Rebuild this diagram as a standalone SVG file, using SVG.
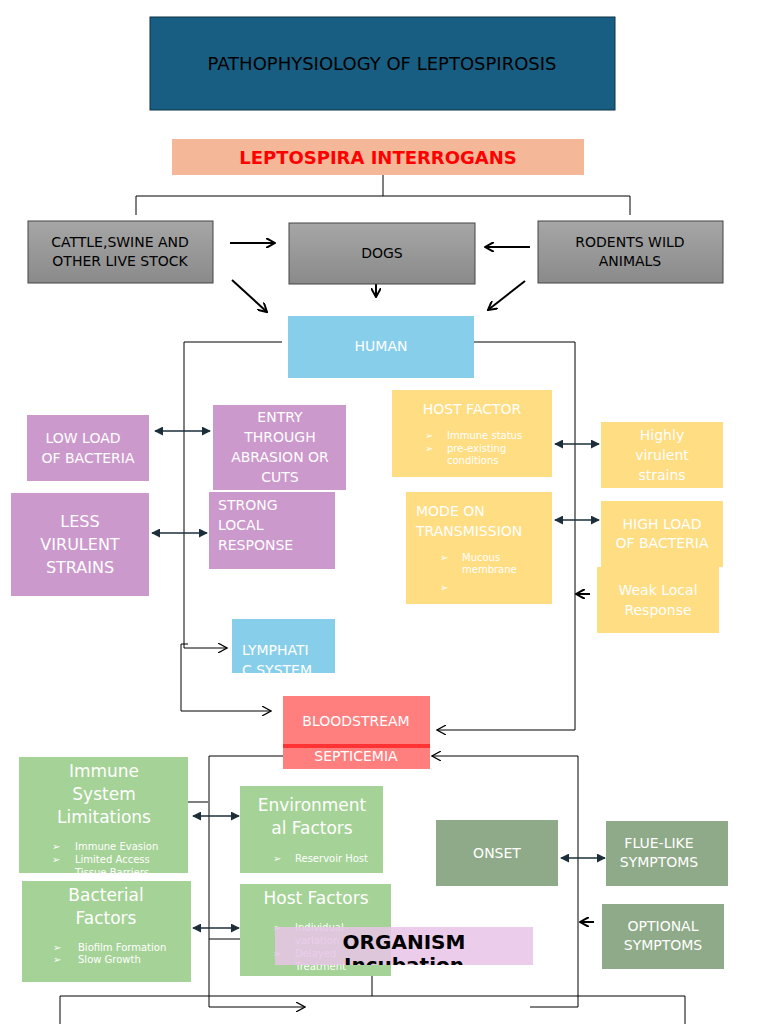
<svg xmlns="http://www.w3.org/2000/svg" width="768" height="1024" viewBox="0 0 768 1024">
<defs>
<linearGradient id="g" x1="0" y1="0" x2="0" y2="1"><stop offset="0" stop-color="#a6a6a6"/><stop offset="1" stop-color="#8a8a8a"/></linearGradient>
<marker id="o" viewBox="0 0 10 10" refX="9" refY="5" markerWidth="10" markerHeight="10" orient="auto" markerUnits="userSpaceOnUse"><path d="M0,0 L9,5 L0,10" fill="none" stroke="#000" stroke-width="1.2"/></marker>
<marker id="f" viewBox="0 0 10 10" refX="9" refY="5" markerWidth="9" markerHeight="9" orient="auto-start-reverse" markerUnits="userSpaceOnUse"><path d="M0,0 L10,5 L0,10 Z" fill="#1b2e3a"/></marker>
<marker id="b" viewBox="0 0 10 10" refX="9" refY="5" markerWidth="10" markerHeight="10" orient="auto" markerUnits="userSpaceOnUse"><path d="M0,0 L9,5 L0,10" fill="none" stroke="#000" stroke-width="2"/></marker>
</defs>
<style>
text{font-family:"DejaVu Sans",sans-serif;text-anchor:middle}
.w{fill:#fff;font-size:14px}
.s{fill:#fff;font-size:10px;text-anchor:start}
.k{fill:#000;font-size:14px}
.ln{fill:none;stroke:#000;stroke-width:1}
.th{fill:none;stroke:#000;stroke-width:2}
.da{fill:none;stroke:#1b2e3a;stroke-width:1.5;marker-start:url(#f);marker-end:url(#f)}
.p{fill:#CC99CC}.y{fill:#FFDD82}.gr{fill:#A5D296}.dg{fill:#8FAA88}
</style>
<g id="connectors">
<path class="ln" d="M383,175V196M136,215V196H630V215"/>
<path class="th" d="M230,243H275" marker-end="url(#b)"/>
<path class="th" d="M530,247H485" marker-end="url(#b)"/>
<path class="th" d="M376,284V297" marker-end="url(#b)"/>
<path class="th" d="M232,280L267,312" marker-end="url(#b)"/>
<path class="th" d="M525,281L488,310" marker-end="url(#b)"/>
<path class="ln" d="M282,342H184V648H227" marker-end="url(#o)"/>
<path class="ln" d="M474,342H575V730H437" marker-end="url(#o)"/>
<path class="ln" d="M188,644H181V711H271" marker-end="url(#o)"/>
<path class="da" d="M155,431H210"/>
<path class="da" d="M152,533H207"/>
<path class="da" d="M555,444H599"/>
<path class="da" d="M555,520H599"/>
<path class="th" d="M590,594H576" marker-end="url(#b)"/>
<path class="th" d="M355,727V742" marker-end="url(#b)"/>
<path class="ln" d="M283,756H209V1007H305" marker-end="url(#o)"/>
<path class="ln" d="M530,1007H578V756H432" marker-end="url(#o)"/>
<path class="ln" d="M188,802H208M209,939H272" marker-end="url(#o)"/>
<path class="da" d="M193,816H239"/>
<path class="da" d="M193,928H239"/>
<path class="da" d="M561,858H605"/>
<path class="th" d="M594,922H580" marker-end="url(#b)"/>
<path class="ln" d="M372,965V996M60,1024V996H685V1024"/>
</g>
<g id="title"><rect x="150" y="17" width="465" height="93" fill="#175E82" stroke="#0d3347"/><text x="382" y="70" style="font-size:18px;fill:#000">PATHOPHYSIOLOGY OF LEPTOSPIROSIS</text></g>
<g id="lepto"><rect x="172" y="139" width="412" height="36" fill="#F4B899"/><text x="378" y="164" style="font-size:18px;fill:#ff0000;font-weight:bold">LEPTOSPIRA INTERROGANS</text></g>
<g id="cattle"><rect x="28" y="221" width="185" height="62" fill="url(#g)" stroke="#444"/><text class="k" x="120" y="247">CATTLE,SWINE AND</text><text class="k" x="120" y="266">OTHER LIVE STOCK</text></g>
<g id="dogs"><rect x="289" y="223" width="186" height="61" fill="url(#g)" stroke="#444"/><text class="k" x="382" y="258">DOGS</text></g>
<g id="rodents"><rect x="538" y="221" width="185" height="62" fill="url(#g)" stroke="#444"/><text class="k" x="630" y="247">RODENTS WILD</text><text class="k" x="630" y="266">ANIMALS</text></g>
<g id="human"><rect x="288" y="316" width="186" height="62" fill="#87CEEB"/><text class="w" x="381" y="351">HUMAN</text></g>
<g id="lowload"><rect class="p" x="27" y="415" width="122" height="66"/><text class="w" x="83" y="443">LOW LOAD</text><text class="w" x="88" y="463">OF BACTERIA</text></g>
<g id="entry"><rect class="p" x="213" y="405" width="133" height="85"/><text class="w" x="280" y="422">ENTRY</text><text class="w" x="280" y="442">THROUGH</text><text class="w" x="280" y="462">ABRASION OR</text><text class="w" x="280" y="482">CUTS</text></g>
<g id="lessvir"><rect class="p" x="11" y="493" width="138" height="103"/><text class="w" x="80" y="527" style="font-size:16px">LESS</text><text class="w" x="80" y="550" style="font-size:16px">VIRULENT</text><text class="w" x="80" y="573" style="font-size:16px">STRAINS</text></g>
<g id="strong"><rect class="p" x="209" y="492" width="126" height="77"/><text class="w" x="218" y="510" style="text-anchor:start">STRONG</text><text class="w" x="218" y="530" style="text-anchor:start">LOCAL</text><text class="w" x="218" y="550" style="text-anchor:start">RESPONSE</text></g>
<g id="hostfactor"><rect class="y" x="392" y="390" width="160" height="87"/><text class="w" x="472" y="414">HOST FACTOR</text><text class="s" x="425" y="439">➢</text><text class="s" x="447" y="439">Immune status</text><text class="s" x="425" y="452">➢</text><text class="s" x="447" y="452">pre-existing</text><text class="s" x="447" y="464">conditions</text></g>
<g id="mode"><rect class="y" x="406" y="492" width="146" height="112"/><text class="w" x="416" y="516" style="text-anchor:start">MODE ON</text><text class="w" x="416" y="536" style="text-anchor:start">TRANSMISSION</text><text class="s" x="440" y="561">➢</text><text class="s" x="462" y="561">Mucous</text><text class="s" x="462" y="573">membrane</text><text class="s" x="440" y="591">➢</text></g>
<g id="highly"><rect class="y" x="601" y="422" width="122" height="66"/><text class="w" x="662" y="440">Highly</text><text class="w" x="662" y="460">virulent</text><text class="w" x="662" y="480">strains</text></g>
<g id="highload"><rect class="y" x="601" y="501" width="122" height="66"/><text class="w" x="662" y="529">HIGH LOAD</text><text class="w" x="662" y="548">OF BACTERIA</text></g>
<g id="weak"><rect class="y" x="597" y="567" width="122" height="66"/><text class="w" x="658" y="595">Weak Local</text><text class="w" x="658" y="615">Response</text></g>
<g id="lymph"><rect x="232" y="619" width="103" height="54" fill="#87CEEB"/><svg x="232" y="619" width="103" height="54"><text class="w" x="10" y="36" style="text-anchor:start">LYMPHATI</text><text class="w" x="10" y="56" style="text-anchor:start">C SYSTEM</text></svg></g>
<g id="blood"><rect x="283" y="696" width="147" height="73" fill="#FF7F7F"/><rect x="283" y="744" width="147" height="4" fill="#FF3333"/><text class="w" x="356" y="726">BLOODSTREAM</text><text class="w" x="356" y="761">SEPTICEMIA</text></g>
<g id="immune"><rect class="gr" x="19" y="757" width="169" height="116"/><svg x="19" y="757" width="169" height="116"><text class="w" x="85" y="20" style="font-size:17px">Immune</text><text class="w" x="85" y="43" style="font-size:17px">System</text><text class="w" x="85" y="66" style="font-size:17px">Limitations</text><text class="s" x="33" y="93">➢</text><text class="s" x="56" y="93">Immune Evasion</text><text class="s" x="33" y="106">➢</text><text class="s" x="56" y="106">Limited Access</text><text class="s" x="56" y="119">Tissue Barriers</text></svg></g>
<g id="bacterial"><rect class="gr" x="22" y="881" width="169" height="101"/><text class="w" x="106" y="901" style="font-size:17px">Bacterial</text><text class="w" x="106" y="924" style="font-size:17px">Factors</text><text class="s" x="53" y="951">➢</text><text class="s" x="78" y="951">Biofilm Formation</text><text class="s" x="53" y="963">➢</text><text class="s" x="78" y="963">Slow Growth</text></g>
<g id="env"><rect class="gr" x="240" y="786" width="143" height="87"/><text class="w" x="312" y="811" style="font-size:17px">Environment</text><text class="w" x="312" y="834" style="font-size:17px">al Factors</text><text class="s" x="273" y="862">➢</text><text class="s" x="295" y="862">Reservoir  Host</text></g>
<g id="hostf"><rect class="gr" x="240" y="884" width="151" height="92"/><text class="w" x="316" y="904" style="font-size:17px">Host Factors</text><text class="s" x="273" y="931">➢</text><text class="s" x="295" y="931">Individual</text><text class="s" x="295" y="944">variation</text><text class="s" x="273" y="957">➢</text><text class="s" x="295" y="957">Delayed</text><text class="s" x="295" y="970">Treatment</text></g>
<g id="organism"><rect x="275" y="927" width="258" height="38" fill="#E8C4E8" opacity="0.85"/><svg x="275" y="927" width="258" height="38"><text x="129" y="22" style="font-size:20px;font-weight:bold;fill:#000">ORGANISM</text><text x="129" y="45" style="font-size:20px;font-weight:bold;fill:#000">Incubation</text></svg></g>
<g id="onset"><rect class="dg" x="436" y="820" width="122" height="66"/><text class="w" x="497" y="858">ONSET</text></g>
<g id="flue"><rect class="dg" x="606" y="821" width="122" height="65"/><text class="w" x="659" y="848">FLUE-LIKE</text><text class="w" x="659" y="867">SYMPTOMS</text></g>
<g id="optional"><rect class="dg" x="602" y="904" width="122" height="65"/><text class="w" x="663" y="931">OPTIONAL</text><text class="w" x="663" y="950">SYMPTOMS</text></g>
</svg>
